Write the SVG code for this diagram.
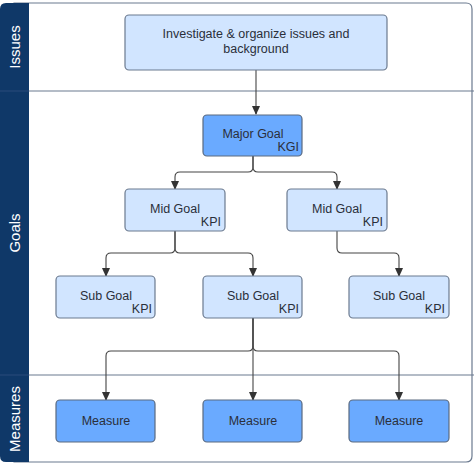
<svg xmlns="http://www.w3.org/2000/svg" width="474" height="464" viewBox="0 0 474 464">
<defs>
<style>
.frame{fill:#ffffff;stroke:#6b7a8f;stroke-width:1.2}
.band{fill:#0f3868}
.div{stroke:#6b7a8f;stroke-width:1.2}
.lane{font-family:"Liberation Sans",Arial,sans-serif;font-size:15px;fill:#ffffff;text-anchor:middle}
.light{fill:#d1e5ff;stroke:#6b7a8f;stroke-width:1.2}
.dark{fill:#6aaaff;stroke:#5a6a80;stroke-width:1.2}
.t{font-family:"Liberation Sans",Arial,sans-serif;font-size:12.5px;fill:#2a2f3a;text-anchor:middle}
.r{font-family:"Liberation Sans",Arial,sans-serif;font-size:12.5px;fill:#2a2f3a;text-anchor:end}
.c{fill:none;stroke:#444;stroke-width:1.1}
</style>
<marker id="ah" markerWidth="10" markerHeight="10" refX="8" refY="5" orient="auto" markerUnits="userSpaceOnUse">
<path d="M0,1 L9,5 L0,9 z" fill="#333"/>
</marker>
</defs>
<g id="pool">
<path class="frame" d="M14,3 H466 Q472,3 472,9 V456 Q472,462 466,462 H14 Z"/>
<path class="band" d="M6,3 H29 V462 H6 Q0,462 0,456 V9 Q0,3 6,3 Z"/>
<line class="div" x1="29" y1="91" x2="474" y2="91"/>
<line class="div" x1="29" y1="375" x2="474" y2="375"/>
<line x1="0" y1="91" x2="29" y2="91" stroke="#2a4a7a" stroke-width="1"/>
<line x1="0" y1="375" x2="29" y2="375" stroke="#2a4a7a" stroke-width="1"/>
<text class="lane" transform="translate(19.5,47) rotate(-90)">Issues</text>
<text class="lane" transform="translate(19.5,233) rotate(-90)">Goals</text>
<text class="lane" transform="translate(19.5,419) rotate(-90)">Measures</text>
</g>
<g id="connectors">
<line class="c" x1="256" y1="70" x2="256" y2="114" marker-end="url(#ah)"/>
<path class="c" d="M253,156 V167 Q253,172 248,172 H180 Q175,172 175,177 V189" marker-end="url(#ah)"/>
<path class="c" d="M253,156 V167 Q253,172 258,172 H332 Q337,172 337,177 V189" marker-end="url(#ah)"/>
<path class="c" d="M175,231 V248 Q175,253 170,253 H111 Q106,253 106,258 V276" marker-end="url(#ah)"/>
<path class="c" d="M175,231 V248 Q175,253 180,253 H248 Q253,253 253,258 V276" marker-end="url(#ah)"/>
<path class="c" d="M337,231 V248 Q337,253 342,253 H394 Q399,253 399,258 V276" marker-end="url(#ah)"/>
<path class="c" d="M253,318 V346 Q253,351 248,351 H111 Q106,351 106,356 V400" marker-end="url(#ah)"/>
<path class="c" d="M253,318 V400" marker-end="url(#ah)"/>
<path class="c" d="M253,318 V346 Q253,351 258,351 H394 Q399,351 399,356 V400" marker-end="url(#ah)"/>
</g>
<g id="issue">
<rect class="light" x="125" y="15" width="262" height="55" rx="4"/>
<text class="t" x="256" y="38">Investigate &amp; organize issues and</text>
<text class="t" x="256" y="53">background</text>
</g>
<g id="major">
<rect class="dark" x="203" y="115" width="99" height="41" rx="4"/>
<text class="t" x="253" y="138">Major Goal</text>
<text class="r" x="299" y="151">KGI</text>
</g>
<g id="mid1">
<rect class="light" x="125" y="189" width="100" height="42" rx="4"/>
<text class="t" x="175" y="213">Mid Goal</text>
<text class="r" x="221" y="226">KPI</text>
</g>
<g id="mid2">
<rect class="light" x="287" y="189" width="100" height="42" rx="4"/>
<text class="t" x="337" y="213">Mid Goal</text>
<text class="r" x="383" y="226">KPI</text>
</g>
<g id="sub1">
<rect class="light" x="56" y="276" width="99" height="42" rx="4"/>
<text class="t" x="106" y="300">Sub Goal</text>
<text class="r" x="152" y="313">KPI</text>
</g>
<g id="sub2">
<rect class="light" x="203" y="276" width="99" height="42" rx="4"/>
<text class="t" x="253" y="300">Sub Goal</text>
<text class="r" x="299" y="313">KPI</text>
</g>
<g id="sub3">
<rect class="light" x="349" y="276" width="100" height="42" rx="4"/>
<text class="t" x="399" y="300">Sub Goal</text>
<text class="r" x="445" y="313">KPI</text>
</g>
<g id="measure1">
<rect class="dark" x="56" y="400" width="99" height="42" rx="4"/>
<text class="t" x="106" y="425">Measure</text>
</g>
<g id="measure2">
<rect class="dark" x="203" y="400" width="99" height="42" rx="4"/>
<text class="t" x="253" y="425">Measure</text>
</g>
<g id="measure3">
<rect class="dark" x="349" y="400" width="100" height="42" rx="4"/>
<text class="t" x="399" y="425">Measure</text>
</g>
</svg>
